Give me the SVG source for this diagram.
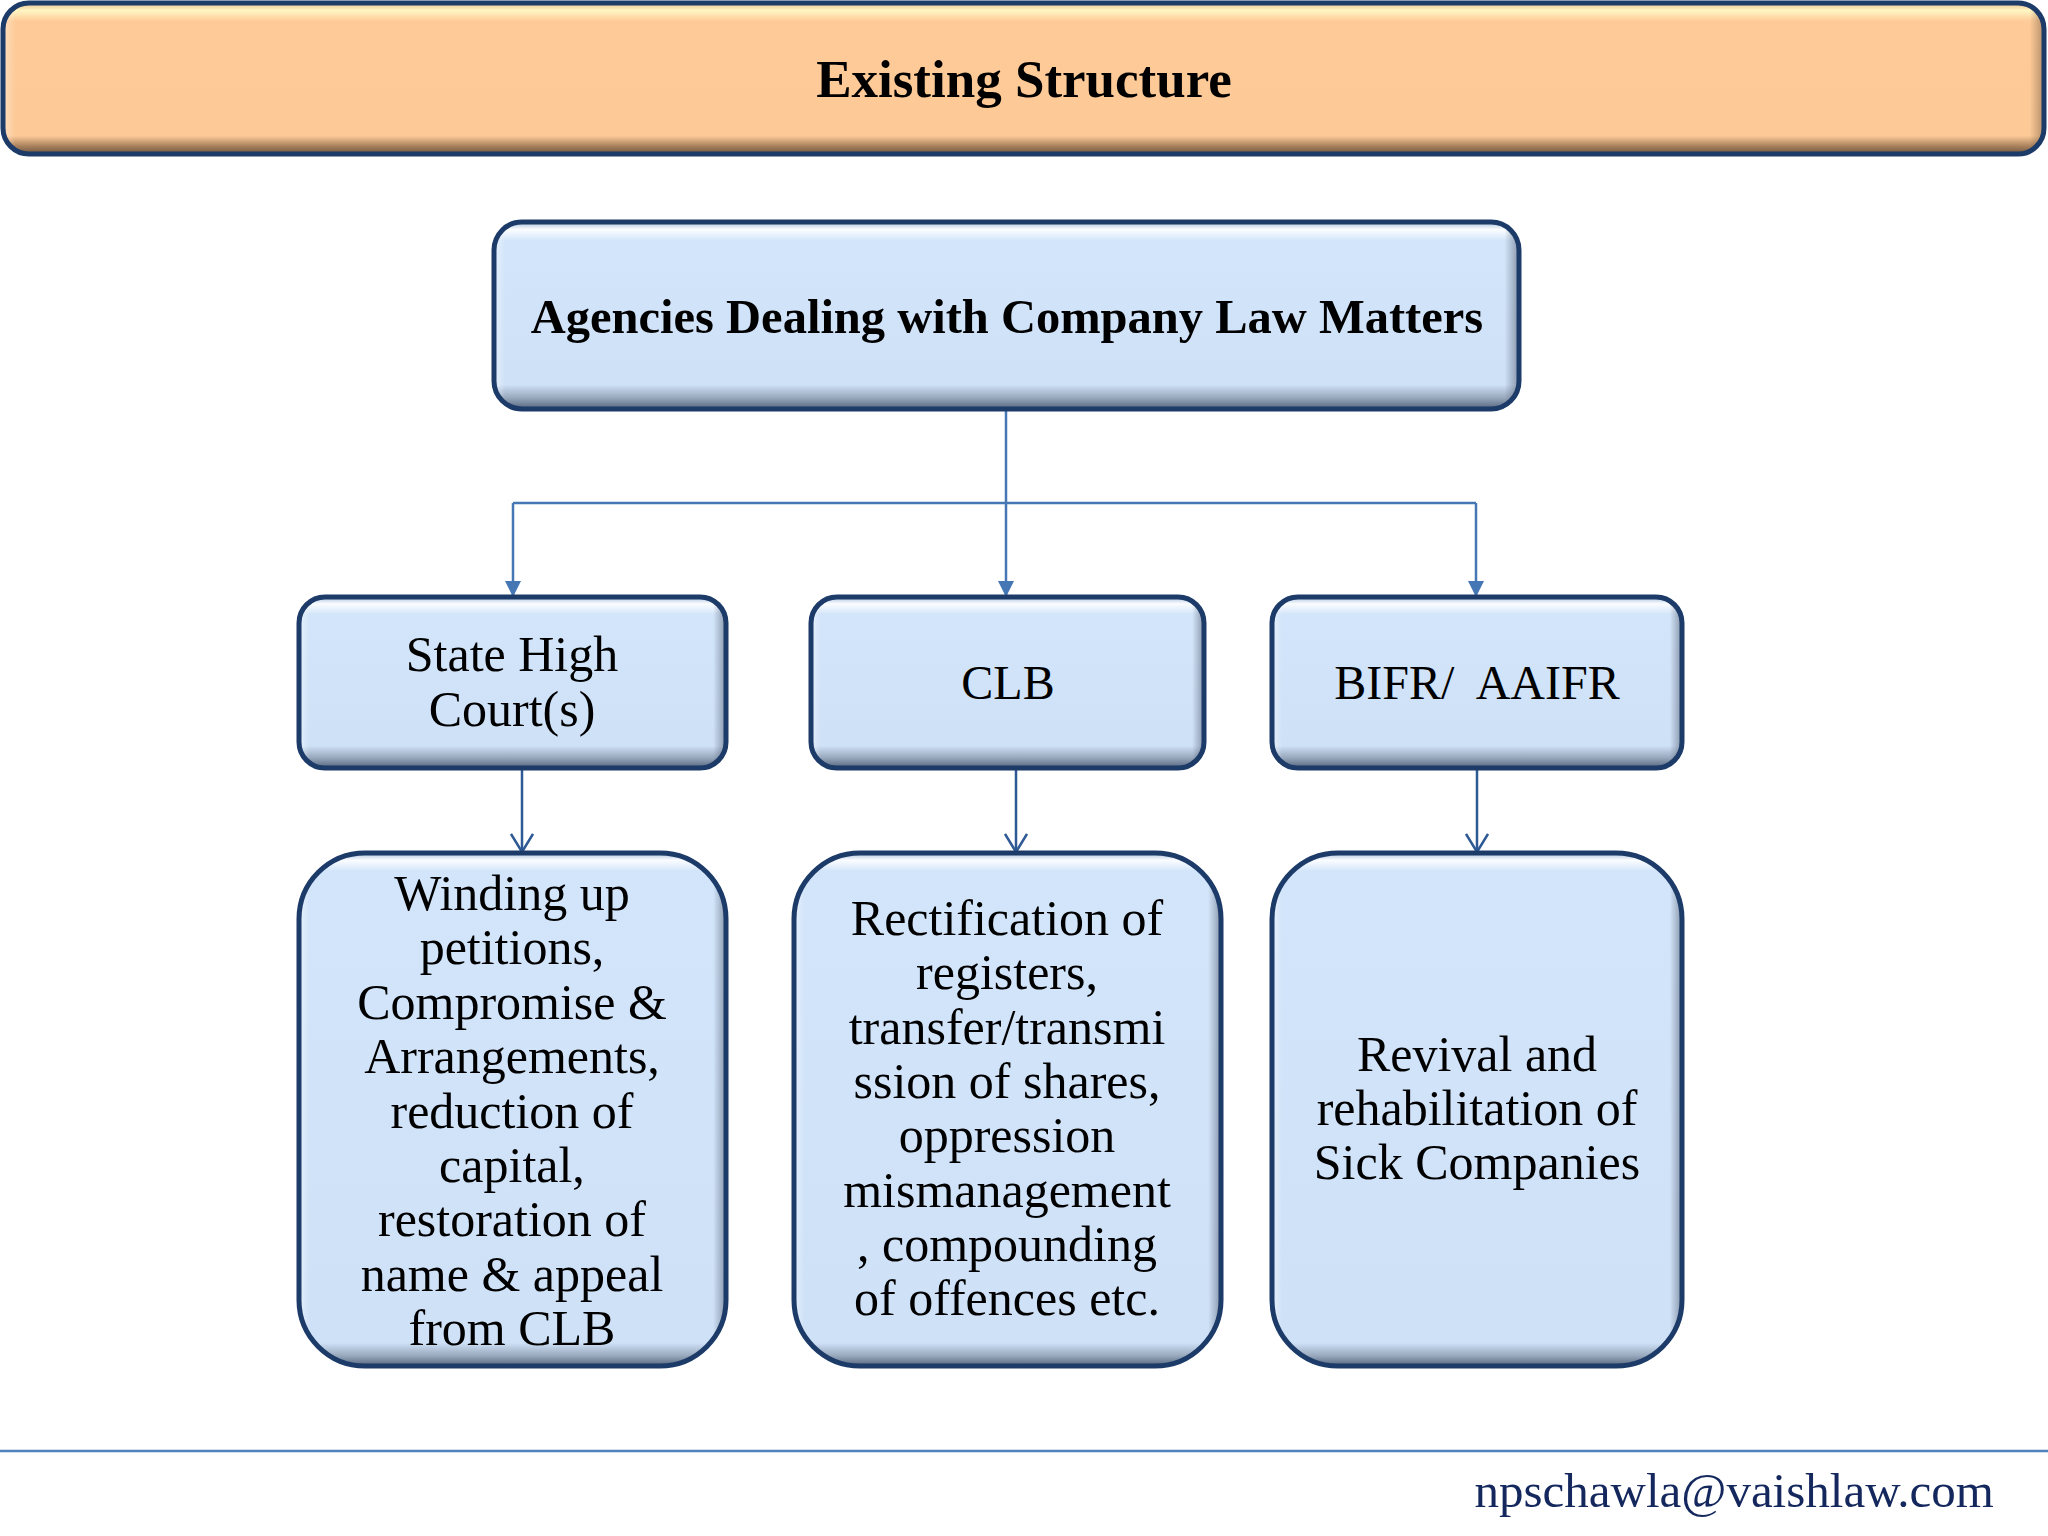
<svg xmlns="http://www.w3.org/2000/svg" width="2048" height="1536" viewBox="0 0 2048 1536">
<defs>
<style>
.t{font-family:"Liberation Serif","Times New Roman",serif;fill:#000;text-anchor:middle}
.bx{font-size:50px}
.bs{font-size:48px}
.bd{font-weight:bold}
.edge{fill:none;stroke:#1c3b68;stroke-width:5}
.con{fill:none;stroke:#4677b5;stroke-width:2.5}
.con2{fill:none;stroke:#2d5994;stroke-width:2.5}
</style>
<linearGradient id="gS" x1="0" y1="0" x2="0" y2="1">
<stop offset="0" stop-color="#a9c0dc"/><stop offset="0.04" stop-color="#fbfdff"/><stop offset="0.1" stop-color="#d3e5fa"/><stop offset="0.87" stop-color="#cfe1f7"/><stop offset="0.94" stop-color="#98a8bd"/><stop offset="1" stop-color="#55657d"/>
</linearGradient>
<linearGradient id="gT" x1="0" y1="0" x2="0" y2="1">
<stop offset="0" stop-color="#a9c0dc"/><stop offset="0.014" stop-color="#fbfdff"/><stop offset="0.035" stop-color="#d3e5fa"/><stop offset="0.955" stop-color="#cfe1f7"/><stop offset="0.98" stop-color="#98a8bd"/><stop offset="1" stop-color="#55657d"/>
</linearGradient>
<linearGradient id="gO" x1="0" y1="0" x2="0" y2="1">
<stop offset="0" stop-color="#e8c090"/><stop offset="0.05" stop-color="#fff6c4"/><stop offset="0.12" stop-color="#fecb98"/><stop offset="0.88" stop-color="#fcc997"/><stop offset="0.95" stop-color="#a67f5b"/><stop offset="1" stop-color="#6b5440"/>
</linearGradient>
<linearGradient id="gH" x1="0" y1="0" x2="1" y2="0">
<stop offset="0" stop-color="#ffffff" stop-opacity="0.45"/><stop offset="0.025" stop-color="#ffffff" stop-opacity="0"/><stop offset="0.97" stop-color="#3c465a" stop-opacity="0"/><stop offset="1" stop-color="#3c465a" stop-opacity="0.5"/>
</linearGradient>
<linearGradient id="gHm" x1="0" y1="0" x2="1" y2="0">
<stop offset="0" stop-color="#ffffff" stop-opacity="0.45"/><stop offset="0.011" stop-color="#ffffff" stop-opacity="0"/><stop offset="0.986" stop-color="#3c465a" stop-opacity="0"/><stop offset="1" stop-color="#3c465a" stop-opacity="0.5"/>
</linearGradient>
<linearGradient id="gHw" x1="0" y1="0" x2="1" y2="0">
<stop offset="0" stop-color="#ffffff" stop-opacity="0.4"/><stop offset="0.006" stop-color="#ffffff" stop-opacity="0"/><stop offset="0.993" stop-color="#5a4630" stop-opacity="0"/><stop offset="1" stop-color="#5a4630" stop-opacity="0.45"/>
</linearGradient>
<marker id="aF" viewBox="0 0 16 16" refX="16" refY="8" markerWidth="16" markerHeight="16" markerUnits="userSpaceOnUse" orient="auto">
<path d="M0,0 L16,8 L0,16 Z" fill="#4677b5"/>
</marker>
<marker id="aO" viewBox="0 0 20 24" refX="19" refY="12" markerWidth="20" markerHeight="24" markerUnits="userSpaceOnUse" orient="auto">
<path d="M1,1 L19,12 L1,23" fill="none" stroke="#2d5994" stroke-width="2.5"/>
</marker>
</defs>
<rect width="2048" height="1536" fill="#ffffff"/>

<g id="title">
<rect x="3" y="3" width="2041" height="151" rx="26" fill="url(#gO)"/>
<rect x="3" y="3" width="2041" height="151" rx="26" fill="url(#gHw)"/>
<rect x="3" y="3" width="2041" height="151" rx="26" class="edge" stroke="#1f3b62"/>
<text class="t bd" x="1024" y="97" font-size="53">Existing Structure</text>
</g>

<g id="connectors">
<path class="con" d="M1006,409 V503"/>
<path class="con" d="M513,503 H1476"/>
<path class="con" d="M513,503 V597" marker-end="url(#aF)"/>
<path class="con" d="M1006,503 V597" marker-end="url(#aF)"/>
<path class="con" d="M1476,503 V597" marker-end="url(#aF)"/>
<path class="con2" d="M522,768 V852" marker-end="url(#aO)"/>
<path class="con2" d="M1016,768 V852" marker-end="url(#aO)"/>
<path class="con2" d="M1477,768 V852" marker-end="url(#aO)"/>
</g>

<g id="agencies">
<rect x="494" y="222" width="1025" height="187" rx="28" fill="url(#gS)"/>
<rect x="494" y="222" width="1025" height="187" rx="28" fill="url(#gHm)"/>
<rect x="494" y="222" width="1025" height="187" rx="28" class="edge"/>
<text class="t bd" x="1007" y="333" font-size="48.5">Agencies Dealing with Company Law Matters</text>
</g>

<g id="high-court">
<rect x="299" y="597" width="427" height="171" rx="26" fill="url(#gS)"/>
<rect x="299" y="597" width="427" height="171" rx="26" fill="url(#gH)"/>
<rect x="299" y="597" width="427" height="171" rx="26" class="edge"/>
<text class="t bx" x="512" y="671">State High</text>
<text class="t bx" x="512" y="726">Court(s)</text>
</g>

<g id="clb">
<rect x="811" y="597" width="393" height="171" rx="26" fill="url(#gS)"/>
<rect x="811" y="597" width="393" height="171" rx="26" fill="url(#gH)"/>
<rect x="811" y="597" width="393" height="171" rx="26" class="edge"/>
<text class="t bs" x="1008" y="699">CLB</text>
</g>

<g id="bifr">
<rect x="1272" y="597" width="410" height="171" rx="26" fill="url(#gS)"/>
<rect x="1272" y="597" width="410" height="171" rx="26" fill="url(#gH)"/>
<rect x="1272" y="597" width="410" height="171" rx="26" class="edge"/>
<text class="t bs" x="1477" y="699" xml:space="preserve">BIFR/  AAIFR</text>
</g>

<g id="hc-matters">
<rect x="299" y="853" width="427" height="513" rx="66" fill="url(#gT)"/>
<rect x="299" y="853" width="427" height="513" rx="66" fill="url(#gH)"/>
<rect x="299" y="853" width="427" height="513" rx="66" class="edge"/>
<text class="t bx" x="512" y="910">Winding up</text>
<text class="t bx" x="512" y="964">petitions,</text>
<text class="t bx" x="512" y="1019">Compromise &amp;</text>
<text class="t bx" x="512" y="1073">Arrangements,</text>
<text class="t bx" x="512" y="1128">reduction of</text>
<text class="t bx" x="512" y="1182">capital,</text>
<text class="t bx" x="512" y="1236">restoration of</text>
<text class="t bx" x="512" y="1291">name &amp; appeal</text>
<text class="t bx" x="512" y="1345">from CLB</text>
</g>

<g id="clb-matters">
<rect x="794" y="853" width="427" height="513" rx="66" fill="url(#gT)"/>
<rect x="794" y="853" width="427" height="513" rx="66" fill="url(#gH)"/>
<rect x="794" y="853" width="427" height="513" rx="66" class="edge"/>
<text class="t bx" x="1007" y="935">Rectification of</text>
<text class="t bx" x="1007" y="989">registers,</text>
<text class="t bx" x="1007" y="1044">transfer/transmi</text>
<text class="t bx" x="1007" y="1098">ssion of shares,</text>
<text class="t bx" x="1007" y="1152">oppression</text>
<text class="t bx" x="1007" y="1207">mismanagement</text>
<text class="t bx" x="1007" y="1261">, compounding</text>
<text class="t bx" x="1007" y="1315">of offences etc.</text>
</g>

<g id="bifr-matters">
<rect x="1272" y="853" width="410" height="513" rx="66" fill="url(#gT)"/>
<rect x="1272" y="853" width="410" height="513" rx="66" fill="url(#gH)"/>
<rect x="1272" y="853" width="410" height="513" rx="66" class="edge"/>
<text class="t bx" x="1477" y="1071">Revival and</text>
<text class="t bx" x="1477" y="1125">rehabilitation of</text>
<text class="t bx" x="1477" y="1179">Sick Companies</text>
</g>

<g id="footer">
<line x1="0" y1="1451" x2="2048" y2="1451" stroke="#4f81bd" stroke-width="2.5"/>
<text x="1994" y="1507" font-family="'Liberation Serif','Times New Roman',serif" font-size="49" fill="#14285e" text-anchor="end">npschawla@vaishlaw.com</text>
</g>
</svg>
